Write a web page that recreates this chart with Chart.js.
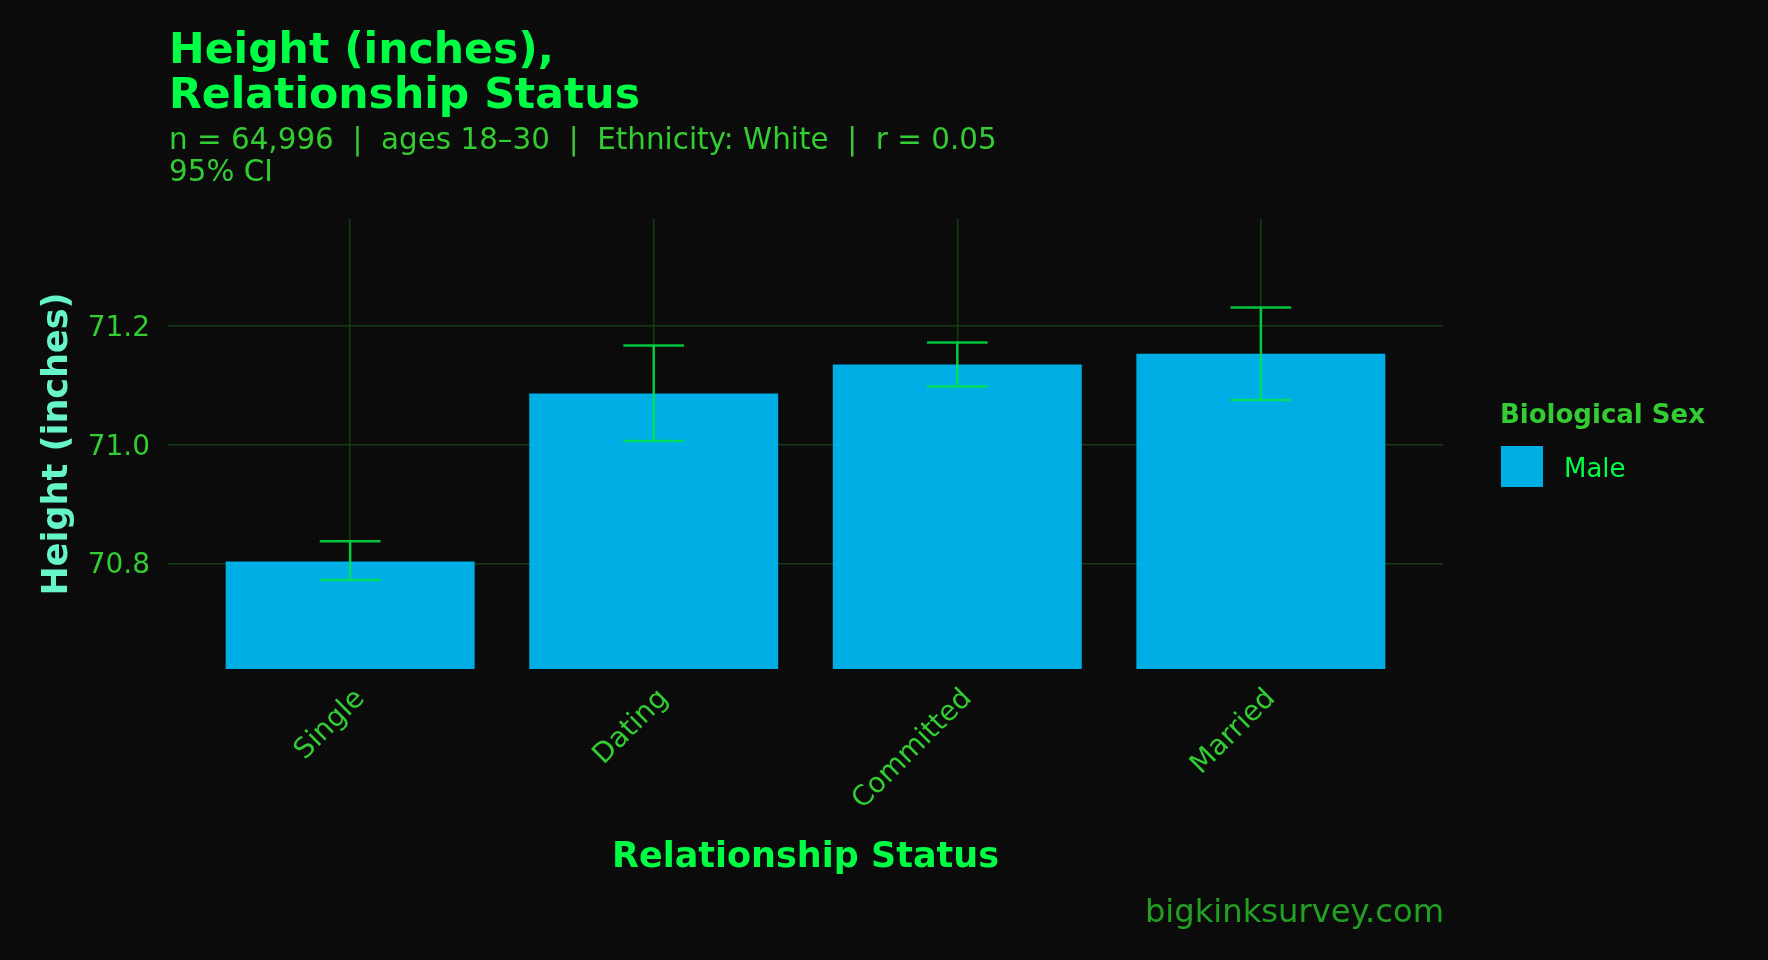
<!DOCTYPE html>
<html>
<head>
<meta charset="utf-8">
<title>Height (inches), Relationship Status</title>
<script src="https://cdn.jsdelivr.net/npm/chart.js@4.4.1/dist/chart.umd.min.js"></script>
<style>
html,body{margin:0;padding:0;background:#0b0b0b;}
#box{width:1768px;height:960px;}
</style>
</head>
<body>
<div id="box"><canvas id="canvas"></canvas></div>
<script>
// values
const categories=["Single","Dating","Committed","Married"];
const means=[70.803,71.086,71.135,71.153];
const lower=[70.772,71.006,71.098,71.075];
const upper=[70.837,71.167,71.172,71.231];
const yTicks=[70.8,71.0,71.2];
const yMin=70.622;
const yMax=71.38;

const titleLines=["Height (inches),","Relationship Status"];
const subtitleLines=["n = 64,996  |  ages 18\u201330  |  Ethnicity: White  |  r = 0.05","95% CI"];
const legendTitle="Biological Sex";
const seriesName="Male";
const watermark="bigkinksurvey.com";

const FONT="'DejaVu Sans', sans-serif";
const BG="#0b0b0b";
const BAR="rgba(0,183,242,0.95)";
const ERR="rgba(0,230,70,0.85)";
const GRID="#143c14";
const GREEN="#00ff44";
const MID="#33cc33";

const errorBars={
    id:"errorBars",
    afterDatasetsDraw(chart){
        const ctx=chart.ctx;
        const x=chart.scales.x;
        const y=chart.scales.y;
        ctx.save();
        ctx.strokeStyle=ERR;
        ctx.lineWidth=2.5;
        categories.forEach((c,i)=>{
            const cx=x.getPixelForValue(i);
            const l=x.getPixelForValue(i-0.1);
            const r=x.getPixelForValue(i+0.1);
            const top=y.getPixelForValue(upper[i]);
            const bot=y.getPixelForValue(lower[i]);
            ctx.beginPath();
            ctx.moveTo(cx,top);ctx.lineTo(cx,bot);
            ctx.moveTo(l,top);ctx.lineTo(r,top);
            ctx.moveTo(l,bot);ctx.lineTo(r,bot);
            ctx.stroke();
        });
        ctx.restore();
    }
};

const decorations={
    id:"decorations",
    beforeDraw(chart){
        const ctx=chart.ctx;
        ctx.save();
        ctx.fillStyle=BG;
        ctx.fillRect(0,0,chart.width,chart.height);
        ctx.restore();
    },
    afterDraw(chart){
        const ctx=chart.ctx;
        const left=chart.chartArea.left+1;
        ctx.save();
        ctx.textBaseline="alphabetic";
        ctx.textAlign="left";
        // title
        ctx.fillStyle=GREEN;
        ctx.font="bold 42.6px "+FONT;
        ctx.fillText(titleLines[0],left,63);
        ctx.fillText(titleLines[1],left,108);
        // subtitle
        ctx.fillStyle=MID;
        ctx.font="29.4px "+FONT;
        ctx.fillText(subtitleLines[0],left,149);
        ctx.fillText(subtitleLines[1],left,181);
        // legend
        ctx.font="bold 26px "+FONT;
        ctx.fillText(legendTitle,1500,423);
        ctx.fillStyle=BAR;
        ctx.fillRect(1501,446,42,41);
        ctx.fillStyle=GREEN;
        ctx.font="26px "+FONT;
        ctx.fillText(seriesName,1564,477);
        // watermark
        ctx.fillStyle="#22a022";
        ctx.font="32.2px "+FONT;
        ctx.textAlign="right";
        ctx.fillText(watermark,chart.chartArea.right+1,922);
        ctx.restore();
    }
};

const ctx=document.getElementById("canvas");
new Chart(ctx,{
    type:"bar",
    data:{
        datasets:[{
            label:seriesName,
            data:categories.map((c,i)=>({x:i,y:means[i]})),
            backgroundColor:BAR,
            borderWidth:0,
            barPercentage:0.82,
            categoryPercentage:1
        }]
    },
    options:{
        responsive:true,
        maintainAspectRatio:false,
        animation:false,
        layout:{
            padding:{top:219,right:325,bottom:0,left:0}
        },
        plugins:{
            legend:{display:false},
            tooltip:{enabled:false},
            title:{display:false}
        },
        scales:{
            x:{
                type:"linear",
                min:-0.6,
                max:categories.length-0.4,
                offset:false,
                afterBuildTicks:function(scale){
                    scale.ticks=categories.map((c,i)=>({value:i}));
                },
                afterFit:function(scale){
                    scale.height=291;
                },
                grid:{
                    color:GRID,
                    lineWidth:1.5,
                    offset:false,
                    drawTicks:false
                },
                border:{display:false},
                ticks:{
                    autoSkip:false,
                    minRotation:45,
                    maxRotation:45,
                    padding:15,
                    color:MID,
                    // transparent backdrop keeps the label anchored right of the tick, like the reference
                    showLabelBackdrop:true,
                    backdropColor:"rgba(0,0,0,0)",
                    font:{family:FONT,size:28,lineHeight:1.05},
                    callback:function(v){
                        return categories[v];
                    }
                },
                title:{
                    display:true,
                    text:"Relationship Status",
                    color:GREEN,
                    font:{family:FONT,size:35,weight:"bold"},
                    padding:{top:0,bottom:81}
                }
            },
            y:{
                min:yMin,
                max:yMax,
                afterBuildTicks:function(scale){
                    scale.ticks=yTicks.map(v=>({value:v}));
                },
                afterFit:function(scale){
                    scale.width=168;
                },
                grid:{
                    color:GRID,
                    lineWidth:1.5,
                    drawTicks:false
                },
                border:{display:false},
                ticks:{
                    padding:18,
                    color:MID,
                    // empty first line nudges the number ~3px down onto the grid line
                    font:{family:FONT,size:28,lineHeight:0.2},
                    callback:function(v){
                        return ["",Number(v).toFixed(1)];
                    }
                },
                title:{
                    display:true,
                    text:"Height (inches)",
                    color:"#66f5c8",
                    font:{family:FONT,size:35,weight:"bold"},
                    padding:{top:37,bottom:0}
                }
            }
        }
    },
    plugins:[errorBars,decorations]
});
</script>
</body>
</html>
